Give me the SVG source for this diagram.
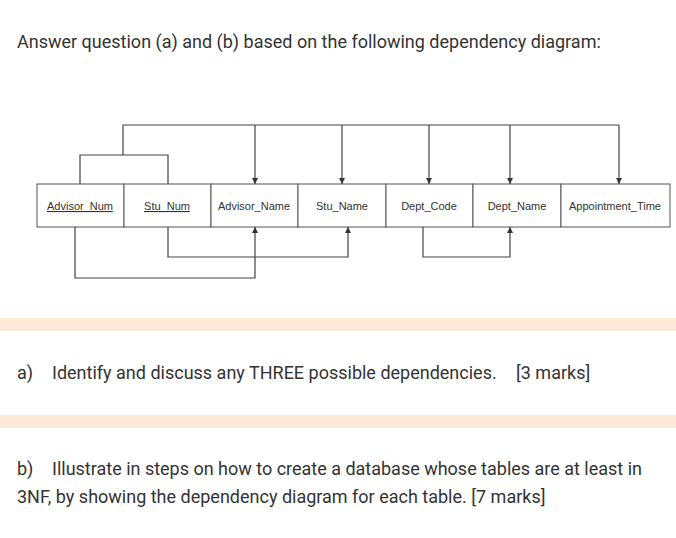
<svg xmlns="http://www.w3.org/2000/svg" width="676" height="538" viewBox="0 0 676 538">
<style>
.t{font-family:Roboto,"Liberation Sans",sans-serif;font-size:18px;fill:#333}
.b{fill:#fff;stroke:#555;stroke-width:1}
.l{font-family:"Liberation Sans",Arial,sans-serif;font-size:11px;fill:#333;text-anchor:middle}
.c{fill:none;stroke:#444;stroke-width:1.2}
</style>
<defs><marker id="a" viewBox="0 0 10 10" refX="10" refY="5" markerWidth="5" markerHeight="5" orient="auto"><path d="M0,0L10,5L0,10z" fill="#333"/></marker></defs>
<rect width="676" height="538" fill="#fff"/>
<rect x="0" y="318" width="676" height="13" fill="#fce9d8"/>
<rect x="0" y="415" width="676" height="13" fill="#fce9d8"/>
<text class="t" x="17" y="48">Answer question (a) and (b) based on the following dependency diagram:</text>
<text class="t" y="379"><tspan x="17">a)</tspan><tspan x="52">Identify and discuss any THREE possible dependencies.</tspan><tspan x="516">[3 marks]</tspan></text>
<text class="t" y="475"><tspan x="17">b)</tspan><tspan x="52" textLength="590" lengthAdjust="spacing">Illustrate in steps on how to create a database whose tables are at least in</tspan></text>
<text class="t" x="17" y="503">3NF, by showing the dependency diagram for each table. [7 marks]</text>
<g id="n1"><rect class="b" x="37" y="184" width="87" height="43"/><text class="l" x="80" y="210" text-decoration="underline">Advisor_Num</text></g>
<g id="n2"><rect class="b" x="124" y="184" width="87" height="43"/><text class="l" x="167" y="210" text-decoration="underline">Stu_Num</text></g>
<g id="n3"><rect class="b" x="211" y="184" width="87" height="43"/><text class="l" x="254" y="210">Advisor_Name</text></g>
<g id="n4"><rect class="b" x="298" y="184" width="88" height="43"/><text class="l" x="342" y="210">Stu_Name</text></g>
<g id="n5"><rect class="b" x="386" y="184" width="87" height="43"/><text class="l" x="429" y="210">Dept_Code</text></g>
<g id="n6"><rect class="b" x="473" y="184" width="88" height="43"/><text class="l" x="517" y="210">Dept_Name</text></g>
<g id="n7"><rect class="b" x="561" y="184" width="109" height="43"/><text class="l" x="615" y="210">Appointment_Time</text></g>
<g id="connectors">
<path class="c" d="M80,184V155H168V184M123,155V125H619"/>
<path class="c" d="M255,125V184" marker-end="url(#a)"/>
<path class="c" d="M342,125V184" marker-end="url(#a)"/>
<path class="c" d="M429,125V184" marker-end="url(#a)"/>
<path class="c" d="M510,125V184" marker-end="url(#a)"/>
<path class="c" d="M619,125V184" marker-end="url(#a)"/>
<path class="c" d="M168,227V257H348V227" marker-end="url(#a)"/>
<path class="c" d="M75,227V278H255V227" marker-end="url(#a)"/>
<path class="c" d="M423,227V257H510V227" marker-end="url(#a)"/>
</g>
</svg>
